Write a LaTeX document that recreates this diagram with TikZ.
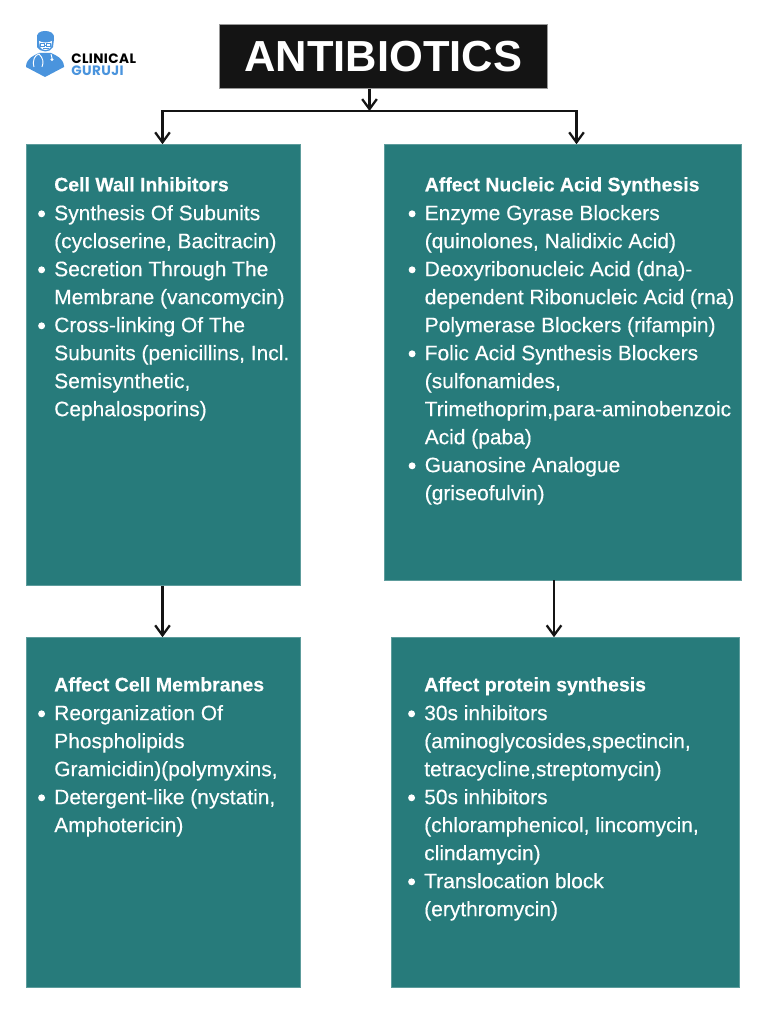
\documentclass[tikz,border=0pt]{standalone}
\usepackage{fontspec}
\setmainfont{Liberation Sans}
\newfontfamily\medfont[RawFeature={embolden=0.35}]{Liberation Sans}
\newfontfamily\logofont[LetterSpace=3]{Poppins}
\usetikzlibrary{arrows.meta}
\definecolor{teal1}{HTML}{277B7B}
\definecolor{ink}{HTML}{141414}
\definecolor{logoblue}{HTML}{4A94DD}
\newcommand{\fl}{\rule{0pt}{15pt}}
\newcommand{\bu}{\llap{\tikz[baseline=-0.5pt,x=1pt,y=1pt]\fill[white] (0,4.3pt) circle (2.6pt);\hspace{6.9pt}}}
\newcommand{\hd}[1]{{\fontsize{14.6}{21}\selectfont\textbf{#1}}}
\tikzset{
  x=0.75pt,y=-0.75pt,
  panel/.style={fill=teal1,draw=teal1!75!white,line width=0.4pt},
  body/.style={anchor=north west,inner sep=0pt,text=white,align=left,font=\fontsize{15.7}{21}\medfont},
  link/.style={draw=ink,line width=1.9pt},
  flow/.style={link,-{Straight Barb[length=7.5pt,width=11pt,line width=1.7pt]}},
  lg/.style={fill=logoblue,draw=none},
  logotext/.style={anchor=base west,inner sep=0pt,text height=7pt,text depth=0pt,font=\logofont\fontsize{10.2}{11}\selectfont\bfseries},
}
\begin{document}
\begin{tikzpicture}
\useasboundingbox (0,0) rectangle (768,1024);
\fill[white] (0,0) rectangle (768,1024);
% logo
\path[lg] (26,66) .. controls (27,58) and (33,56) .. (39,53) -- (51,53) .. controls (57,56) and (63,58) .. (64,66) -- (64,67) -- (45,77) -- (26,67) -- cycle;
\path[lg] (37,47) -- (37,39) .. controls (36,33) and (40,31) .. (45,31) .. controls (50,31) and (55,33) .. (54,39) -- (53,47) .. controls (50,53) and (41,53) .. (37,47) -- cycle;
\path[fill=white] (39,41) .. controls (42,43) and (49,43) .. (52,41) -- (51,47) .. controls (49,51) and (42,51) .. (40,47) -- cycle;
\draw[logoblue,line width=0.6pt] (40.5,43.5) rectangle (44.5,46.5) (46.5,43.5) rectangle (50.5,46.5) (44.5,45)--(46.5,45);
\fill[logoblue] (42.5,48.3) rectangle (48.5,49.3);
\draw[white,line width=0.7pt] (34,67) .. controls (32,60) and (35,55) .. (39,54) .. controls (43,58) and (44,62) .. (42,67);
\draw[white,line width=0.7pt] (51,54) -- (52,58);
\fill[white] (52,59.5) circle (1.6);
\node[logotext] (logoa) at (71,63.5) {CLINICAL};
\node[logotext,text=logoblue] (logob) at (71,75.5) {GURUJI};
% title
\node[fill=ink,draw=black!40,line width=0.3pt,inner sep=0pt,minimum width=327.5*0.75pt,minimum height=64*0.75pt,text=white,font=\fontsize{32.6}{33}\selectfont\bfseries] (title) at (383.25,56.5) {ANTIBIOTICS};
% panels
\path[panel] (26,144.5) rectangle (300,585.5);
\node[minimum width=274*0.75pt,minimum height=441*0.75pt,inner sep=0pt] (wall) at (163,365) {};
\path[panel] (384.5,144.5) rectangle (741,580);
\node[minimum width=356.5*0.75pt,minimum height=435.5*0.75pt,inner sep=0pt] (nucleic) at (562.75,362.25) {};
\path[panel] (26,637.5) rectangle (300,987.5);
\node[minimum width=274*0.75pt,minimum height=350*0.75pt,inner sep=0pt] (membr) at (163,812.5) {};
\path[panel] (391.5,637.5) rectangle (739,987.5);
\node[minimum width=347.5*0.75pt,minimum height=350*0.75pt,inner sep=0pt] (protein) at (565.25,812.5) {};
% text
\node[body] (t1) at (54,171) {\fl\hd{Cell Wall Inhibitors}\\[0.7pt]
\bu Synthesis Of Subunits\\
(cycloserine, Bacitracin)\\
\bu Secretion Through The\\
Membrane (vancomycin)\\
\bu Cross-linking Of The\\
Subunits (penicillins, Incl.\\
Semisynthetic,\\
Cephalosporins)};
\node[body] (t2) at (424.5,171) {\fl\hd{Affect Nucleic Acid Synthesis}\\[0.7pt]
\bu Enzyme Gyrase Blockers\\
(quinolones, Nalidixic Acid)\\
\bu Deoxyribonucleic Acid (dna)-\\
dependent Ribonucleic Acid (rna)\\
Polymerase Blockers (rifampin)\\
\bu Folic Acid Synthesis Blockers\\
(sulfonamides,\\
Trimethoprim,para-aminobenzoic\\
Acid (paba)\\
\bu Guanosine Analogue\\
(griseofulvin)};
\node[body] (t3) at (54,671) {\fl\hd{Affect Cell Membranes}\\[0.7pt]
\bu Reorganization Of\\
Phospholipids\\
Gramicidin)(polymyxins,\\
\bu Detergent-like (nystatin,\\
Amphotericin)};
\node[body] (t4) at (424,671) {\fl\hd{Affect protein synthesis}\\[0.7pt]
\bu 30s inhibitors\\
(aminoglycosides,spectincin,\\
tetracycline,streptomycin)\\
\bu 50s inhibitors\\
(chloramphenicol, lincomycin,\\
clindamycin)\\
\bu Translocation block\\
(erythromycin)};
% connectors
\coordinate (hub) at (369.5,111);
\coordinate (leftdrop) at (162.5,111);
\coordinate (rightdrop) at (576.5,111);
\coordinate (lowright) at (554,600);
\draw[flow] (title.south -| hub) -- (hub);
\draw[link,line cap=rect] (leftdrop) -- (rightdrop);
\draw[flow] (leftdrop) -- (leftdrop |- wall.north);
\draw[flow] (rightdrop) -- (rightdrop |- nucleic.north);
\draw[flow] (wall.south -| leftdrop) -- (leftdrop |- membr.north);
\draw[flow] (nucleic.south -| lowright) -- (lowright |- protein.north);
\end{tikzpicture}
\end{document}
